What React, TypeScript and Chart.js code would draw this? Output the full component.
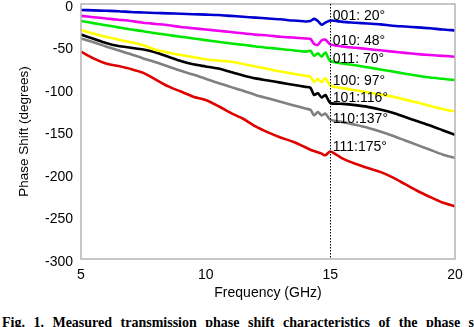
import React, { useEffect, useRef } from "react";
import { Chart, registerables } from "chart.js";

Chart.register(...registerables);

const freq = [5, 5.5, 6, 6.5, 7, 7.5, 8, 8.5, 9, 9.5, 10, 10.5, 11, 11.5, 12, 12.5, 13, 13.5, 14, 14.2, 14.35, 14.5, 14.65, 14.8, 15, 15.5, 16, 16.5, 17, 17.5, 18, 18.5, 19, 19.5, 20];

const s001 = [-7, -7.5, -8, -8.5, -9.5, -10, -10.5, -11, -11.5, -12, -12.5, -13, -14, -15, -16, -17, -18, -19.5, -20.5, -20, -17.5, -20, -24.5, -22, -19.5, -21, -22, -23, -24, -25.5, -26.5, -27.5, -28.5, -30, -31];
const s010 = [-14, -15.5, -17, -18.5, -20, -22, -23.5, -25, -27, -28.5, -30, -31.5, -33, -34.5, -36, -37, -38.5, -39.5, -40.5, -41, -47, -48, -43, -42, -47.5, -50, -51.5, -53, -54.5, -56, -57.5, -59, -60, -61, -62];
const s011 = [-20, -22.5, -25, -27.5, -30, -32, -34.5, -36.5, -38.5, -40.5, -42.5, -44.5, -46.5, -48, -50, -51.5, -53, -54.5, -56, -55, -61, -58, -62, -57, -67, -70, -72, -74.5, -77, -79.5, -82, -84.5, -86.5, -88, -89.5];
const s100 = [-30.5, -35, -38.5, -42, -45, -48.5, -54, -57, -60, -62.5, -65, -66.5, -68, -70.5, -73.5, -76.5, -79.5, -82, -84.5, -85.5, -92, -88, -92, -87, -96, -99, -101.5, -104, -106.5, -109, -112.5, -116, -120, -123.5, -126.5];
const s101 = [-36, -41, -46, -49.5, -51.5, -53.5, -57, -62, -67, -71, -73.5, -76, -80, -84, -87.5, -90, -92.5, -95, -97.5, -98.5, -107, -105, -110, -107, -116.5, -117.5, -119, -121, -124, -128, -133, -138, -143, -148.5, -154];
const s110 = [-40.5, -45, -50, -54.5, -59, -64, -68.5, -73.5, -78.5, -83, -88, -93, -97.5, -102, -107, -111, -115, -119, -123, -124.5, -131, -127, -131, -129, -136, -139, -142, -145.5, -150, -155, -160.5, -166, -171.5, -177, -181];
const s111 = [-56, -64, -70, -73, -76.5, -81, -89, -97, -103, -109, -113, -120, -128, -135, -144, -151, -157, -162, -168.5, -171.5, -173, -174.5, -176, -178, -173.5, -182, -188, -193, -197.5, -204, -212, -220, -227, -233.5, -238];

const seriesNames = ["001", "010", "011", "100", "101", "110", "111"];
const seriesValues = [s001, s010, s011, s100, s101, s110, s111];
const seriesColors = ["#0000d0", "#f000f0", "#00e800", "#ffff00", "#000000", "#808080", "#e00000"];

const labelTexts = ["001: 20°", "010: 48°", "011: 70°", "100: 97°", "101:116°", "110:137°", "111:175°"];
const labelY = [-14, -43.5, -64.5, -90.5, -110.5, -135.5, -168.5];
const labelX = 15.1;
const markerFreq = 15;

const yTicks = [0, -50, -100, -150, -200, -250, -300];
const xTicks = [5, 10, 15, 20];

const overlayPlugin = {
  id: "overlay",
  afterDatasetsDraw(chart: any) {
    const { ctx, chartArea, scales } = chart;
    const xs = scales.x;
    const ys = scales.y;
    ctx.save();
    ctx.strokeStyle = "#b4b4b4";
    ctx.lineWidth = 1.5;
    ctx.strokeRect(chartArea.left, chartArea.top, chartArea.right - chartArea.left, chartArea.bottom - chartArea.top);
    const px = Math.round(xs.getPixelForValue(markerFreq)) + 0.5;
    ctx.strokeStyle = "#000";
    ctx.lineWidth = 1;
    ctx.setLineDash([1.5, 1.5]);
    ctx.beginPath();
    ctx.moveTo(px, chartArea.top);
    ctx.lineTo(px, chartArea.bottom);
    ctx.stroke();
    ctx.setLineDash([]);
    ctx.fillStyle = "#000";
    ctx.font = "14px 'Liberation Sans', Arial, sans-serif";
    ctx.textBaseline = "middle";
    ctx.textAlign = "left";
    labelTexts.forEach((t, i) => {
      ctx.fillText(t, xs.getPixelForValue(labelX), ys.getPixelForValue(labelY[i]));
    });
    ctx.restore();
  },
};

export default function App() {
  const ref = useRef<HTMLCanvasElement>(null);
  useEffect(() => {
    document.body.style.margin = "0";
    const chart = new Chart(ref.current!, {
      type: "line",
      data: {
        datasets: seriesValues.map((vals, i) => ({
          label: seriesNames[i],
          data: freq.map((f, j) => ({ x: f, y: vals[j] })),
          borderColor: seriesColors[i],
          backgroundColor: seriesColors[i],
          borderWidth: 2.6,
          pointRadius: 0,
          tension: 0.25,
          fill: false,
        })),
      },
      options: {
        animation: false,
        responsive: false,
        maintainAspectRatio: false,
        layout: { padding: { top: 4, right: 19, left: 0, bottom: 0 } },
        plugins: { legend: { display: false }, tooltip: { enabled: false } },
        scales: {
          x: {
            type: "linear",
            min: 5,
            max: 20,
            afterBuildTicks: (s: any) => {
              s.ticks = xTicks.map((v) => ({ value: v }));
            },
            afterFit: (s: any) => {
              s.height = 51;
              s.paddingLeft = 0;
              s.paddingRight = 0;
            },
            grid: { display: false, drawTicks: false },
            border: { display: false },
            ticks: {
              color: "#000",
              padding: 8,
              maxRotation: 0,
              font: { family: "'Liberation Sans', Arial, sans-serif", size: 14 },
            },
            title: {
              display: true,
              text: "Frequency (GHz)",
              color: "#000",
              padding: { top: 8, bottom: 8 },
              font: { family: "'Liberation Sans', Arial, sans-serif", size: 14 },
            },
          },
          y: {
            type: "linear",
            min: -300,
            max: 0,
            afterBuildTicks: (s: any) => {
              s.ticks = yTicks.map((v) => ({ value: v }));
            },
            afterFit: (s: any) => {
              s.width = 81;
              s.paddingTop = 0;
              s.paddingBottom = 0;
            },
            grid: { display: false, drawTicks: false },
            border: { display: false },
            ticks: {
              color: "#000",
              padding: 8,
              labelOffset: 3,
              font: { family: "'Liberation Sans', Arial, sans-serif", size: 14 },
            },
            title: {
              display: true,
              text: "Phase Shift (degrees)",
              color: "#000",
              padding: { top: 16, bottom: 4 },
              font: { family: "'Liberation Sans', Arial, sans-serif", size: 13.5 },
            },
          },
        },
      },
      plugins: [overlayPlugin],
    });
    return () => chart.destroy();
  }, []);

  return (
    <div style={{ position: "relative", width: 474, height: 327, overflow: "hidden", background: "#fff" }}>
      <canvas ref={ref} width={474} height={310} style={{ display: "block", width: 474, height: 310 }} />
      <div
        style={{
          position: "absolute",
          left: 2,
          top: 315,
          whiteSpace: "nowrap",
          fontFamily: "'Liberation Serif', 'Times New Roman', serif",
          fontSize: 14,
          fontWeight: "bold",
          wordSpacing: 5,
          color: "#000",
        }}
      >
        Fig. 1.  Measured transmission phase shift characteristics of the phase shifter
      </div>
    </div>
  );
}
